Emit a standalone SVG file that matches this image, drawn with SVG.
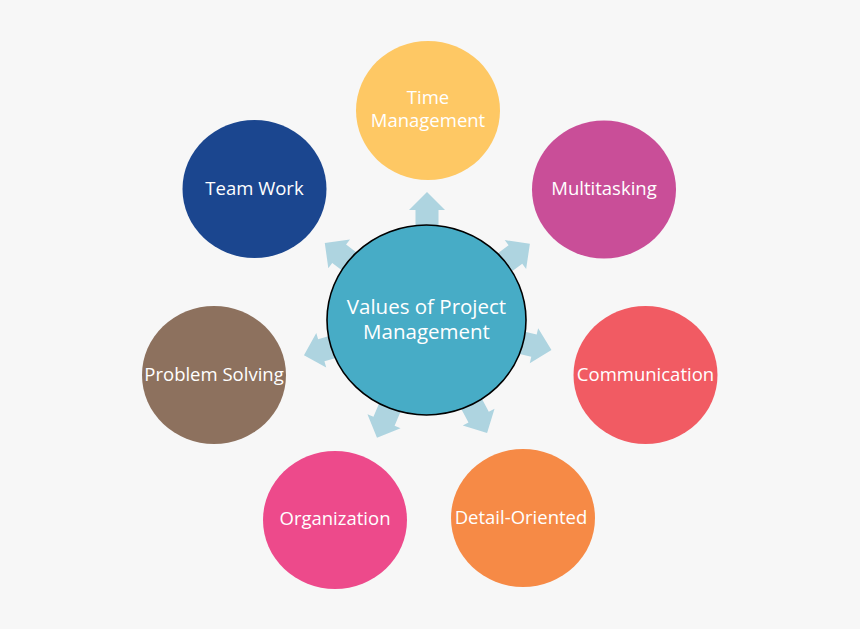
<svg xmlns="http://www.w3.org/2000/svg" xmlns:xlink="http://www.w3.org/1999/xlink" width="860" height="629" viewBox="0 0 860 629">
  <defs>
    <polygon id="arr" points="85,-11.5 110,-11.5 110,-18 128,0 110,18 110,11.5 85,11.5"/>
    <style>
      .lbl { font-family: "Open Sans", "Noto Sans", "Liberation Sans", sans-serif; font-size: 18.5px; fill: #ffffff; text-anchor: middle; }
      .ctr { font-family: "Open Sans", "Noto Sans", "Liberation Sans", sans-serif; font-size: 20.5px; fill: #ffffff; text-anchor: middle; }
      .arrow { fill: #aed4e0; }
    </style>
  </defs>
  <rect x="0" y="0" width="860" height="629" fill="#f7f7f7"/>

  <g id="connectors" class="arrow">
    <use xlink:href="#arr" href="#arr" transform="translate(427,320) rotate(-90)"/>
    <use xlink:href="#arr" href="#arr" transform="translate(427,320) rotate(-36.5)"/>
    <use xlink:href="#arr" href="#arr" transform="translate(427,320) rotate(13.5)"/>
    <use xlink:href="#arr" href="#arr" transform="translate(427,320) rotate(62)"/>
    <use xlink:href="#arr" href="#arr" transform="translate(427,320) rotate(113)"/>
    <use xlink:href="#arr" href="#arr" transform="translate(427,320) rotate(164)"/>
    <use xlink:href="#arr" href="#arr" transform="translate(427,320) rotate(-143)"/>
  </g>

  <g id="center">
    <ellipse cx="426.5" cy="320" rx="99.5" ry="95" fill="#47acc6" stroke="#000000" stroke-width="1.6"/>
    <text class="ctr" x="426.5" y="314">Values of Project</text>
    <text class="ctr" x="426.5" y="338.5">Management</text>
  </g>

  <g id="time-management">
    <ellipse cx="428" cy="110.5" rx="72" ry="69.5" fill="#fec864"/>
    <text class="lbl" x="428" y="104">Time</text>
    <text class="lbl" x="428" y="127">Management</text>
  </g>

  <g id="team-work">
    <ellipse cx="254.5" cy="189" rx="72" ry="69" fill="#1b468f"/>
    <text class="lbl" x="254.5" y="195">Team Work</text>
  </g>

  <g id="multitasking">
    <ellipse cx="604" cy="189.5" rx="72" ry="69" fill="#c94e98"/>
    <text class="lbl" x="604" y="195">Multitasking</text>
  </g>

  <g id="communication">
    <ellipse cx="645.5" cy="375" rx="72" ry="69" fill="#f15b63"/>
    <text class="lbl" x="645.5" y="381">Communication</text>
  </g>

  <g id="detail-oriented">
    <ellipse cx="523" cy="518" rx="72" ry="69" fill="#f68a46"/>
    <text class="lbl" x="521" y="524">Detail-Oriented</text>
  </g>

  <g id="organization">
    <ellipse cx="335" cy="520" rx="72" ry="69" fill="#ed4a8b"/>
    <text class="lbl" x="335" y="525">Organization</text>
  </g>

  <g id="problem-solving">
    <ellipse cx="214" cy="375" rx="72" ry="69" fill="#8d715e"/>
    <text class="lbl" x="214" y="381">Problem Solving</text>
  </g>
</svg>
